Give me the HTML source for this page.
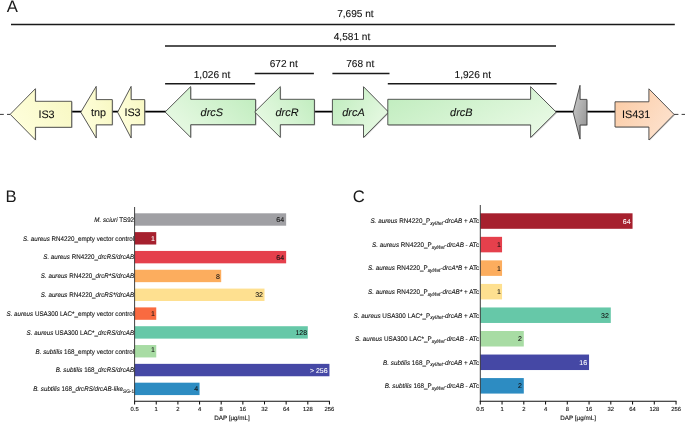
<!DOCTYPE html>
<html><head><meta charset="utf-8"><title>Figure</title>
<style>
html,body{margin:0;padding:0;background:#fff;}
svg{display:block;font-family:"Liberation Sans",Arial,Helvetica,sans-serif;text-rendering:geometricPrecision;}
.i{font-style:italic;}
</style></head><body>
<svg width="685" height="422" viewBox="0 0 685 422">
<defs>
<linearGradient id="gyL" x1="0" y1="0.8" x2="1" y2="0.2"><stop offset="0" stop-color="#ffffde"/><stop offset="1" stop-color="#f8f8c3"/></linearGradient>
<linearGradient id="ggL" x1="0" y1="0.8" x2="1" y2="0.2"><stop offset="0" stop-color="#eafae6"/><stop offset="1" stop-color="#c1edbf"/></linearGradient>
<linearGradient id="ggR" x1="1" y1="0.8" x2="0" y2="0.2"><stop offset="0" stop-color="#eafae6"/><stop offset="1" stop-color="#c1edbf"/></linearGradient>
<linearGradient id="goR" x1="1" y1="0.8" x2="0" y2="0.2"><stop offset="0" stop-color="#fde3d0"/><stop offset="1" stop-color="#fbcca6"/></linearGradient>
<linearGradient id="ggr" x1="0" y1="0" x2="1" y2="1"><stop offset="0" stop-color="#d0d0d0"/><stop offset="1" stop-color="#8e8e8e"/></linearGradient>
</defs>
<rect width="685" height="422" fill="#fff"/>
<text x="6.7" y="11.9" font-size="16.7" fill="#1a1a1a">A</text>
<text x="5.4" y="201.8" font-size="16.7" fill="#1a1a1a">B</text>
<text x="352.8" y="201.8" font-size="16.7" fill="#1a1a1a">C</text>
<line x1="11" y1="24.5" x2="674.8" y2="24.5" stroke="#1a1a1a" stroke-width="1.5"/>
<line x1="165" y1="46" x2="556" y2="46" stroke="#1a1a1a" stroke-width="1.5"/>
<line x1="165.1" y1="83.8" x2="255.1" y2="83.8" stroke="#1a1a1a" stroke-width="1.5"/>
<line x1="254.7" y1="73.4" x2="313.9" y2="73.4" stroke="#1a1a1a" stroke-width="1.5"/>
<line x1="332.4" y1="73.4" x2="389.5" y2="73.4" stroke="#1a1a1a" stroke-width="1.5"/>
<line x1="387.8" y1="83.8" x2="556.6" y2="83.8" stroke="#1a1a1a" stroke-width="1.5"/>
<text x="355.4" y="16.8" font-size="10.1" text-anchor="middle" fill="#111" stroke="#111" stroke-width="0.1">7,695 nt</text>
<text x="352" y="39.9" font-size="10.1" text-anchor="middle" fill="#111" stroke="#111" stroke-width="0.1">4,581 nt</text>
<text x="212" y="77.9" font-size="10.1" text-anchor="middle" fill="#111" stroke="#111" stroke-width="0.1">1,026 nt</text>
<text x="283.7" y="66.8" font-size="10.1" text-anchor="middle" fill="#111" stroke="#111" stroke-width="0.1">672 nt</text>
<text x="360.2" y="66.8" font-size="10.1" text-anchor="middle" fill="#111" stroke="#111" stroke-width="0.1">768 nt</text>
<text x="472.8" y="78" font-size="10.1" text-anchor="middle" fill="#111" stroke="#111" stroke-width="0.1">1,926 nt</text>
<line x1="71" y1="111.7" x2="616" y2="111.7" stroke="#000" stroke-width="1.8"/>
<path d="M0 114.4H3.8M7 114.4H10.2M674 114.4H678.4M681.6 114.4H685" stroke="#222" stroke-width="0.9" fill="none"/>
<path d="M10.2 114.3L35.4 88.69999999999999V101.3H71.7V127.3H35.4V139.9Z" transform="translate(0.8,0.8)" fill="#999" opacity="0.55"/>
<path d="M10.2 114.3L35.4 88.69999999999999V101.3H71.7V127.3H35.4V139.9Z" fill="url(#gyL)" stroke="#3a3a3a" stroke-width="0.85" stroke-linejoin="miter"/>
<path d="M80.8 112.2L96.2 86.4V99.60000000000001H112.3V124.8H96.2V138.0Z" transform="translate(0.8,0.8)" fill="#999" opacity="0.55"/>
<path d="M80.8 112.2L96.2 86.4V99.60000000000001H112.3V124.8H96.2V138.0Z" fill="url(#gyL)" stroke="#3a3a3a" stroke-width="0.85" stroke-linejoin="miter"/>
<path d="M117.6 112.2L131.1 86.4V99.60000000000001H144.7V124.8H131.1V138.0Z" transform="translate(0.8,0.8)" fill="#999" opacity="0.55"/>
<path d="M117.6 112.2L131.1 86.4V99.60000000000001H144.7V124.8H131.1V138.0Z" fill="url(#gyL)" stroke="#3a3a3a" stroke-width="0.85" stroke-linejoin="miter"/>
<path d="M165.1 112L190.7 86.6V99.3H255.6V124.7H190.7V137.4Z" transform="translate(0.8,0.8)" fill="#999" opacity="0.55"/>
<path d="M165.1 112L190.7 86.6V99.3H255.6V124.7H190.7V137.4Z" fill="url(#ggL)" stroke="#3a3a3a" stroke-width="0.85" stroke-linejoin="miter"/>
<path d="M254.7 112L280.3 86.6V99.3H314.4V124.7H280.3V137.4Z" transform="translate(0.8,0.8)" fill="#999" opacity="0.55"/>
<path d="M254.7 112L280.3 86.6V99.3H314.4V124.7H280.3V137.4Z" fill="url(#ggL)" stroke="#3a3a3a" stroke-width="0.85" stroke-linejoin="miter"/>
<path d="M388.6 112.1L363.5 86.69999999999999V99.3H332.4V124.89999999999999H363.5V137.5Z" transform="translate(0.8,0.8)" fill="#999" opacity="0.55"/>
<path d="M388.6 112.1L363.5 86.69999999999999V99.3H332.4V124.89999999999999H363.5V137.5Z" fill="url(#ggR)" stroke="#3a3a3a" stroke-width="0.85" stroke-linejoin="miter"/>
<path d="M556.2 112.1L530.6 86.69999999999999V99.3H387.8V124.89999999999999H530.6V137.5Z" transform="translate(0.8,0.8)" fill="#999" opacity="0.55"/>
<path d="M556.2 112.1L530.6 86.69999999999999V99.3H387.8V124.89999999999999H530.6V137.5Z" fill="url(#ggR)" stroke="#3a3a3a" stroke-width="0.85" stroke-linejoin="miter"/>
<path d="M573.1 112.2L580 85.30000000000001V99.4H586.9V125.0H580V139.1Z" transform="translate(0.8,0.8)" fill="#999" opacity="0.55"/>
<path d="M573.1 112.2L580 85.30000000000001V99.4H586.9V125.0H580V139.1Z" fill="url(#ggr)" stroke="#3a3a3a" stroke-width="0.85" stroke-linejoin="miter"/>
<path d="M674.1 114.4L648.9 88.80000000000001V101.80000000000001H615V127.0H648.9V140.0Z" transform="translate(0.8,0.8)" fill="#999" opacity="0.55"/>
<path d="M674.1 114.4L648.9 88.80000000000001V101.80000000000001H615V127.0H648.9V140.0Z" fill="url(#goR)" stroke="#3a3a3a" stroke-width="0.85" stroke-linejoin="miter"/>
<text x="46.5" y="117.9" font-size="10.8" text-anchor="middle" fill="#111" stroke="#111" stroke-width="0.1">IS3</text>
<text x="98.4" y="115.5" font-size="10.8" text-anchor="middle" fill="#111" stroke="#111" stroke-width="0.1">tnp</text>
<text x="132.5" y="115.8" font-size="10.8" text-anchor="middle" fill="#111" stroke="#111" stroke-width="0.1">IS3</text>
<text x="211.8" y="115.6" font-size="10.9" text-anchor="middle" fill="#111" stroke="#111" stroke-width="0.1" class="i">drcS</text>
<text x="287" y="115.6" font-size="10.9" text-anchor="middle" fill="#111" stroke="#111" stroke-width="0.1" class="i">drcR</text>
<text x="353.5" y="115.6" font-size="10.9" text-anchor="middle" fill="#111" stroke="#111" stroke-width="0.1" class="i">drcA</text>
<text x="461.3" y="115.6" font-size="10.9" text-anchor="middle" fill="#111" stroke="#111" stroke-width="0.1" class="i">drcB</text>
<text x="636.1" y="117.9" font-size="10.8" text-anchor="middle" fill="#111" stroke="#111" stroke-width="0.1">IS431</text>
<rect x="134.6" y="213.30" width="151.55" height="12.4" fill="#a0a0a4"/>
<text x="284.15" y="222.05" font-size="7.0" text-anchor="end" fill="#111" stroke="#111" stroke-width="0.08">64</text>
<text transform="translate(134.10,221.85) scale(0.933,1)" font-size="6.7" text-anchor="end" fill="#111" stroke="#111" stroke-width="0.1"><tspan class="i">M. sciuri</tspan> TS92</text>
<rect x="134.6" y="232.12" width="21.65" height="12.4" fill="#a6202e"/>
<text x="154.85" y="240.87" font-size="7.0" text-anchor="end" fill="#fff" stroke="#fff" stroke-width="0.08">1</text>
<text transform="translate(134.10,240.67) scale(0.933,1)" font-size="6.7" text-anchor="end" fill="#111" stroke="#111" stroke-width="0.1"><tspan class="i">S. aureus</tspan> RN4220_empty vector control</text>
<rect x="134.6" y="250.94" width="151.55" height="12.4" fill="#e5404c"/>
<text x="284.15" y="259.69" font-size="7.0" text-anchor="end" fill="#111" stroke="#111" stroke-width="0.08">64</text>
<text transform="translate(134.10,259.49) scale(0.933,1)" font-size="6.7" text-anchor="end" fill="#111" stroke="#111" stroke-width="0.1"><tspan class="i">S. aureus</tspan> RN4220_<tspan class="i">drcRS/drcAB</tspan></text>
<rect x="134.6" y="269.76" width="86.60" height="12.4" fill="#fcad5e"/>
<text x="220.00" y="278.51" font-size="7.0" text-anchor="end" fill="#111" stroke="#111" stroke-width="0.08">8</text>
<text transform="translate(134.10,278.31) scale(0.933,1)" font-size="6.7" text-anchor="end" fill="#111" stroke="#111" stroke-width="0.1"><tspan class="i">S. aureus</tspan> RN4220_<tspan class="i">drcR*S/drcAB</tspan></text>
<rect x="134.6" y="288.58" width="129.90" height="12.4" fill="#fee090"/>
<text x="263.00" y="297.33" font-size="7.0" text-anchor="end" fill="#111" stroke="#111" stroke-width="0.08">32</text>
<text transform="translate(134.10,297.13) scale(0.933,1)" font-size="6.7" text-anchor="end" fill="#111" stroke="#111" stroke-width="0.1"><tspan class="i">S. aureus</tspan> RN4220_<tspan class="i">drcRS*/drcAB</tspan></text>
<rect x="134.6" y="307.40" width="21.65" height="12.4" fill="#f96a40"/>
<text x="154.85" y="316.15" font-size="7.0" text-anchor="end" fill="#111" stroke="#111" stroke-width="0.08">1</text>
<text transform="translate(134.10,315.95) scale(0.933,1)" font-size="6.7" text-anchor="end" fill="#111" stroke="#111" stroke-width="0.1"><tspan class="i">S. aureus</tspan> USA300 LAC*_empty vector control</text>
<rect x="134.6" y="326.22" width="173.20" height="12.4" fill="#66c8a8"/>
<text x="307.10" y="334.97" font-size="7.0" text-anchor="end" fill="#111" stroke="#111" stroke-width="0.08">128</text>
<text transform="translate(134.10,334.77) scale(0.933,1)" font-size="6.7" text-anchor="end" fill="#111" stroke="#111" stroke-width="0.1"><tspan class="i">S. aureus</tspan> USA300 LAC*_<tspan class="i">drcRS/drcAB</tspan></text>
<rect x="134.6" y="345.04" width="21.65" height="12.4" fill="#a8dca4"/>
<text x="154.85" y="352.29" font-size="7.0" text-anchor="end" fill="#111" stroke="#111" stroke-width="0.08">1</text>
<text transform="translate(134.10,353.59) scale(0.933,1)" font-size="6.7" text-anchor="end" fill="#111" stroke="#111" stroke-width="0.1"><tspan class="i">B. subtilis</tspan> 168_empty vector control</text>
<rect x="134.6" y="363.86" width="194.85" height="12.4" fill="#4548a5"/>
<text x="327.65" y="372.61" font-size="7.0" text-anchor="end" fill="#fff" stroke="#fff" stroke-width="0.08">&gt; 256</text>
<text transform="translate(134.10,372.41) scale(0.933,1)" font-size="6.7" text-anchor="end" fill="#111" stroke="#111" stroke-width="0.1"><tspan class="i">B. subtilis</tspan> 168_<tspan class="i">drcRS/drcAB</tspan></text>
<rect x="134.6" y="382.68" width="64.95" height="12.4" fill="#2d8cc2"/>
<text x="198.15" y="391.43" font-size="7.0" text-anchor="end" fill="#111" stroke="#111" stroke-width="0.08">4</text>
<text transform="translate(134.10,391.23) scale(0.933,1)" font-size="6.7" text-anchor="end" fill="#111" stroke="#111" stroke-width="0.1"><tspan class="i">B. subtilis</tspan> 168_<tspan class="i">drcRS/drcAB-like</tspan><tspan font-size="5.1" dy="1.9">SG-1</tspan></text>
<line x1="134.6" y1="207" x2="134.6" y2="401.75" stroke="#2a2a2a" stroke-width="0.9"/>
<line x1="134.1" y1="401.2" x2="329.95" y2="401.2" stroke="#111" stroke-width="1.1"/>
<line x1="134.60" y1="401.2" x2="134.60" y2="404.4" stroke="#111" stroke-width="1.05"/>
<text x="134.60" y="411.2" font-size="5.85" text-anchor="middle" fill="#111" stroke="#111" stroke-width="0.12">0.5</text>
<line x1="156.25" y1="401.2" x2="156.25" y2="404.4" stroke="#111" stroke-width="1.05"/>
<text x="156.25" y="411.2" font-size="5.85" text-anchor="middle" fill="#111" stroke="#111" stroke-width="0.12">1</text>
<line x1="177.90" y1="401.2" x2="177.90" y2="404.4" stroke="#111" stroke-width="1.05"/>
<text x="177.90" y="411.2" font-size="5.85" text-anchor="middle" fill="#111" stroke="#111" stroke-width="0.12">2</text>
<line x1="199.55" y1="401.2" x2="199.55" y2="404.4" stroke="#111" stroke-width="1.05"/>
<text x="199.55" y="411.2" font-size="5.85" text-anchor="middle" fill="#111" stroke="#111" stroke-width="0.12">4</text>
<line x1="221.20" y1="401.2" x2="221.20" y2="404.4" stroke="#111" stroke-width="1.05"/>
<text x="221.20" y="411.2" font-size="5.85" text-anchor="middle" fill="#111" stroke="#111" stroke-width="0.12">8</text>
<line x1="242.85" y1="401.2" x2="242.85" y2="404.4" stroke="#111" stroke-width="1.05"/>
<text x="242.85" y="411.2" font-size="5.85" text-anchor="middle" fill="#111" stroke="#111" stroke-width="0.12">16</text>
<line x1="264.50" y1="401.2" x2="264.50" y2="404.4" stroke="#111" stroke-width="1.05"/>
<text x="264.50" y="411.2" font-size="5.85" text-anchor="middle" fill="#111" stroke="#111" stroke-width="0.12">32</text>
<line x1="286.15" y1="401.2" x2="286.15" y2="404.4" stroke="#111" stroke-width="1.05"/>
<text x="286.15" y="411.2" font-size="5.85" text-anchor="middle" fill="#111" stroke="#111" stroke-width="0.12">64</text>
<line x1="307.80" y1="401.2" x2="307.80" y2="404.4" stroke="#111" stroke-width="1.05"/>
<text x="307.80" y="411.2" font-size="5.85" text-anchor="middle" fill="#111" stroke="#111" stroke-width="0.12">128</text>
<line x1="329.45" y1="401.2" x2="329.45" y2="404.4" stroke="#111" stroke-width="1.05"/>
<text x="329.45" y="411.2" font-size="5.85" text-anchor="middle" fill="#111" stroke="#111" stroke-width="0.12">256</text>
<text x="232.02" y="420.3" font-size="6.3" text-anchor="middle" fill="#111" stroke="#111" stroke-width="0.12">DAP [µg/mL]</text>
<rect x="480.3" y="213.30" width="152.25" height="15.5" fill="#a6202e"/>
<text x="630.65" y="223.60" font-size="7.0" text-anchor="end" fill="#fff" stroke="#fff" stroke-width="0.08">64</text>
<text transform="translate(479.20,223.40) scale(0.945,1)" font-size="6.7" text-anchor="end" fill="#111" stroke="#111" stroke-width="0.1"><tspan class="i">S. aureus</tspan> RN4220_P<tspan class="i" font-size="5.2" dy="1.7">xyl/tet</tspan><tspan dy="-1.7">-</tspan><tspan class="i">drcAB</tspan> + ATc</text>
<rect x="480.3" y="236.84" width="21.75" height="15.5" fill="#e5404c"/>
<text x="500.95" y="247.14" font-size="7.0" text-anchor="end" fill="#111" stroke="#111" stroke-width="0.08">1</text>
<text transform="translate(479.20,246.94) scale(0.945,1)" font-size="6.7" text-anchor="end" fill="#111" stroke="#111" stroke-width="0.1"><tspan class="i">S. aureus</tspan> RN4220_P<tspan class="i" font-size="5.2" dy="1.7">xyl/tet</tspan><tspan dy="-1.7">-</tspan><tspan class="i">drcAB</tspan> - ATc</text>
<rect x="480.3" y="260.38" width="21.75" height="15.5" fill="#fcad5e"/>
<text x="500.95" y="270.68" font-size="7.0" text-anchor="end" fill="#111" stroke="#111" stroke-width="0.08">1</text>
<text transform="translate(479.20,270.48) scale(0.945,1)" font-size="6.7" text-anchor="end" fill="#111" stroke="#111" stroke-width="0.1"><tspan class="i">S. aureus</tspan> RN4220_P<tspan class="i" font-size="5.2" dy="1.7">xyl/tet</tspan><tspan dy="-1.7">-</tspan><tspan class="i">drcA*B</tspan> + ATc</text>
<rect x="480.3" y="283.92" width="21.75" height="15.5" fill="#fee090"/>
<text x="500.95" y="294.22" font-size="7.0" text-anchor="end" fill="#111" stroke="#111" stroke-width="0.08">1</text>
<text transform="translate(479.20,294.02) scale(0.945,1)" font-size="6.7" text-anchor="end" fill="#111" stroke="#111" stroke-width="0.1"><tspan class="i">S. aureus</tspan> RN4220_P<tspan class="i" font-size="5.2" dy="1.7">xyl/tet</tspan><tspan dy="-1.7">-</tspan><tspan class="i">drcAB*</tspan> + ATc</text>
<rect x="480.3" y="307.46" width="130.50" height="15.5" fill="#66c8a8"/>
<text x="608.90" y="317.76" font-size="7.0" text-anchor="end" fill="#111" stroke="#111" stroke-width="0.08">32</text>
<text transform="translate(479.20,317.56) scale(0.945,1)" font-size="6.7" text-anchor="end" fill="#111" stroke="#111" stroke-width="0.1"><tspan class="i">S. aureus</tspan> USA300 LAC*_P<tspan class="i" font-size="5.2" dy="1.7">xyl/tet</tspan><tspan dy="-1.7">-</tspan><tspan class="i">drcAB</tspan> + ATc</text>
<rect x="480.3" y="331.00" width="43.50" height="15.5" fill="#a8dca4"/>
<text x="521.90" y="341.30" font-size="7.0" text-anchor="end" fill="#111" stroke="#111" stroke-width="0.08">2</text>
<text transform="translate(479.20,341.10) scale(0.945,1)" font-size="6.7" text-anchor="end" fill="#111" stroke="#111" stroke-width="0.1"><tspan class="i">S. aureus</tspan> USA300 LAC*_P<tspan class="i" font-size="5.2" dy="1.7">xyl/tet</tspan><tspan dy="-1.7">-</tspan><tspan class="i">drcAB</tspan> - ATc</text>
<rect x="480.3" y="354.54" width="108.75" height="15.5" fill="#4548a5"/>
<text x="587.15" y="364.84" font-size="7.0" text-anchor="end" fill="#fff" stroke="#fff" stroke-width="0.08">16</text>
<text transform="translate(479.20,364.64) scale(0.945,1)" font-size="6.7" text-anchor="end" fill="#111" stroke="#111" stroke-width="0.1"><tspan class="i">B. subtilis</tspan> 168_P<tspan class="i" font-size="5.2" dy="1.7">xyl/tet</tspan><tspan dy="-1.7">-</tspan><tspan class="i">drcAB</tspan> + ATc</text>
<rect x="480.3" y="378.08" width="43.50" height="15.5" fill="#2d8cc2"/>
<text x="521.90" y="388.38" font-size="7.0" text-anchor="end" fill="#111" stroke="#111" stroke-width="0.08">2</text>
<text transform="translate(479.20,388.18) scale(0.945,1)" font-size="6.7" text-anchor="end" fill="#111" stroke="#111" stroke-width="0.1"><tspan class="i">B. subtilis</tspan> 168_P<tspan class="i" font-size="5.2" dy="1.7">xyl/tet</tspan><tspan dy="-1.7">-</tspan><tspan class="i">drcAB</tspan> - ATc</text>
<line x1="480.3" y1="205" x2="480.3" y2="401.75" stroke="#2a2a2a" stroke-width="0.9"/>
<line x1="479.8" y1="401.2" x2="676.5" y2="401.2" stroke="#111" stroke-width="1.1"/>
<line x1="480.30" y1="401.2" x2="480.30" y2="404.4" stroke="#111" stroke-width="1.05"/>
<text x="480.30" y="411.2" font-size="5.85" text-anchor="middle" fill="#111" stroke="#111" stroke-width="0.12">0.5</text>
<line x1="502.05" y1="401.2" x2="502.05" y2="404.4" stroke="#111" stroke-width="1.05"/>
<text x="502.05" y="411.2" font-size="5.85" text-anchor="middle" fill="#111" stroke="#111" stroke-width="0.12">1</text>
<line x1="523.80" y1="401.2" x2="523.80" y2="404.4" stroke="#111" stroke-width="1.05"/>
<text x="523.80" y="411.2" font-size="5.85" text-anchor="middle" fill="#111" stroke="#111" stroke-width="0.12">2</text>
<line x1="545.55" y1="401.2" x2="545.55" y2="404.4" stroke="#111" stroke-width="1.05"/>
<text x="545.55" y="411.2" font-size="5.85" text-anchor="middle" fill="#111" stroke="#111" stroke-width="0.12">4</text>
<line x1="567.30" y1="401.2" x2="567.30" y2="404.4" stroke="#111" stroke-width="1.05"/>
<text x="567.30" y="411.2" font-size="5.85" text-anchor="middle" fill="#111" stroke="#111" stroke-width="0.12">8</text>
<line x1="589.05" y1="401.2" x2="589.05" y2="404.4" stroke="#111" stroke-width="1.05"/>
<text x="589.05" y="411.2" font-size="5.85" text-anchor="middle" fill="#111" stroke="#111" stroke-width="0.12">16</text>
<line x1="610.80" y1="401.2" x2="610.80" y2="404.4" stroke="#111" stroke-width="1.05"/>
<text x="610.80" y="411.2" font-size="5.85" text-anchor="middle" fill="#111" stroke="#111" stroke-width="0.12">32</text>
<line x1="632.55" y1="401.2" x2="632.55" y2="404.4" stroke="#111" stroke-width="1.05"/>
<text x="632.55" y="411.2" font-size="5.85" text-anchor="middle" fill="#111" stroke="#111" stroke-width="0.12">64</text>
<line x1="654.30" y1="401.2" x2="654.30" y2="404.4" stroke="#111" stroke-width="1.05"/>
<text x="654.30" y="411.2" font-size="5.85" text-anchor="middle" fill="#111" stroke="#111" stroke-width="0.12">128</text>
<line x1="676.05" y1="401.2" x2="676.05" y2="404.4" stroke="#111" stroke-width="1.05"/>
<text x="676.05" y="411.2" font-size="5.85" text-anchor="middle" fill="#111" stroke="#111" stroke-width="0.12">256</text>
<text x="578.15" y="420.3" font-size="6.3" text-anchor="middle" fill="#111" stroke="#111" stroke-width="0.12">DAP [µg/mL]</text>
</svg>
</body></html>
